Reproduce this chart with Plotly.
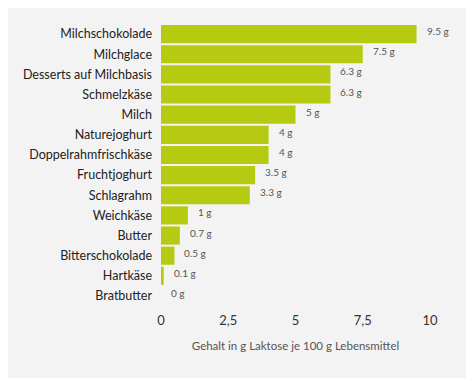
import plotly.graph_objects as go

categories = ["Milchschokolade", "Milchglace", "Desserts auf Milchbasis", "Schmelzkäse",
              "Milch", "Naturejoghurt", "Doppelrahmfrischkäse", "Fruchtjoghurt",
              "Schlagrahm", "Weichkäse", "Butter", "Bitterschokolade", "Hartkäse", "Bratbutter"]
values = [9.5, 7.5, 6.3, 6.3, 5, 4, 4, 3.5, 3.3, 1, 0.7, 0.5, 0.1, 0]
value_labels = ["9.5 g", "7.5 g", "6.3 g", "6.3 g", "5 g", "4 g", "4 g", "3.5 g",
                "3.3 g", "1 g", "0.7 g", "0.5 g", "0.1 g", "0 g"]
tick_vals = [0, 2.5, 5, 7.5, 10]
tick_text = ["0", "2,5", "5", "7,5", "10"]
axis_title = "Gehalt in g Laktose je 100 g Lebensmittel"

# page has an 8px body margin; figure coordinates are page coordinates minus 8
W, H = 466, 373
L, R, T, B = 153, 44, 16, 74
pw, ph = W - L - R, H - T - B

fig = go.Figure()
fig.add_trace(go.Bar(
    x=values, y=categories, orientation="h",
    marker=dict(color="#b7ca12", line=dict(width=0)),
    hoverinfo="skip",
))

annotations = []
for c, v, t in zip(categories, values, value_labels):
    annotations.append(dict(x=v, y=c, xref="x", yref="y", text=t, showarrow=False,
                            xanchor="left", yanchor="middle", xshift=8, yshift=3,
                            font=dict(family="Lato, sans-serif", size=10, color="#555555")))

fig.update_layout(
    width=W, height=H,
    margin=dict(l=L, r=R, t=T, b=B, pad=0, autoexpand=False),
    paper_bgcolor="white",
    plot_bgcolor="#f3f3f3",
    bargap=0.1,
    showlegend=False,
    annotations=annotations,
    shapes=[dict(type="rect", xref="paper", yref="paper", layer="below",
                 x0=(0 - L) / pw, x1=(463 - L) / pw,
                 y0=(H - B - 370) / ph, y1=(H - B - 0) / ph,
                 fillcolor="#f3f3f3", line=dict(width=0))],
    xaxis=dict(range=[0, 10], tickvals=tick_vals, ticktext=tick_text, automargin=False,
               showgrid=False, zeroline=False, showline=False, ticks="",
               ticklabelstandoff=4,
               tickfont=dict(family="Lato, sans-serif", size=13, color="#333333"),
               title=dict(text=axis_title, standoff=14,
                          font=dict(family="Lato, sans-serif", size=11.5, color="#555555"))),
    yaxis=dict(autorange="reversed", showgrid=False, zeroline=False, showline=False,
               ticks="", ticklabelstandoff=8, automargin=False,
               tickfont=dict(family="Lato, sans-serif", size=12.5, color="#222222")),
)

fig.write_html("out.html")
